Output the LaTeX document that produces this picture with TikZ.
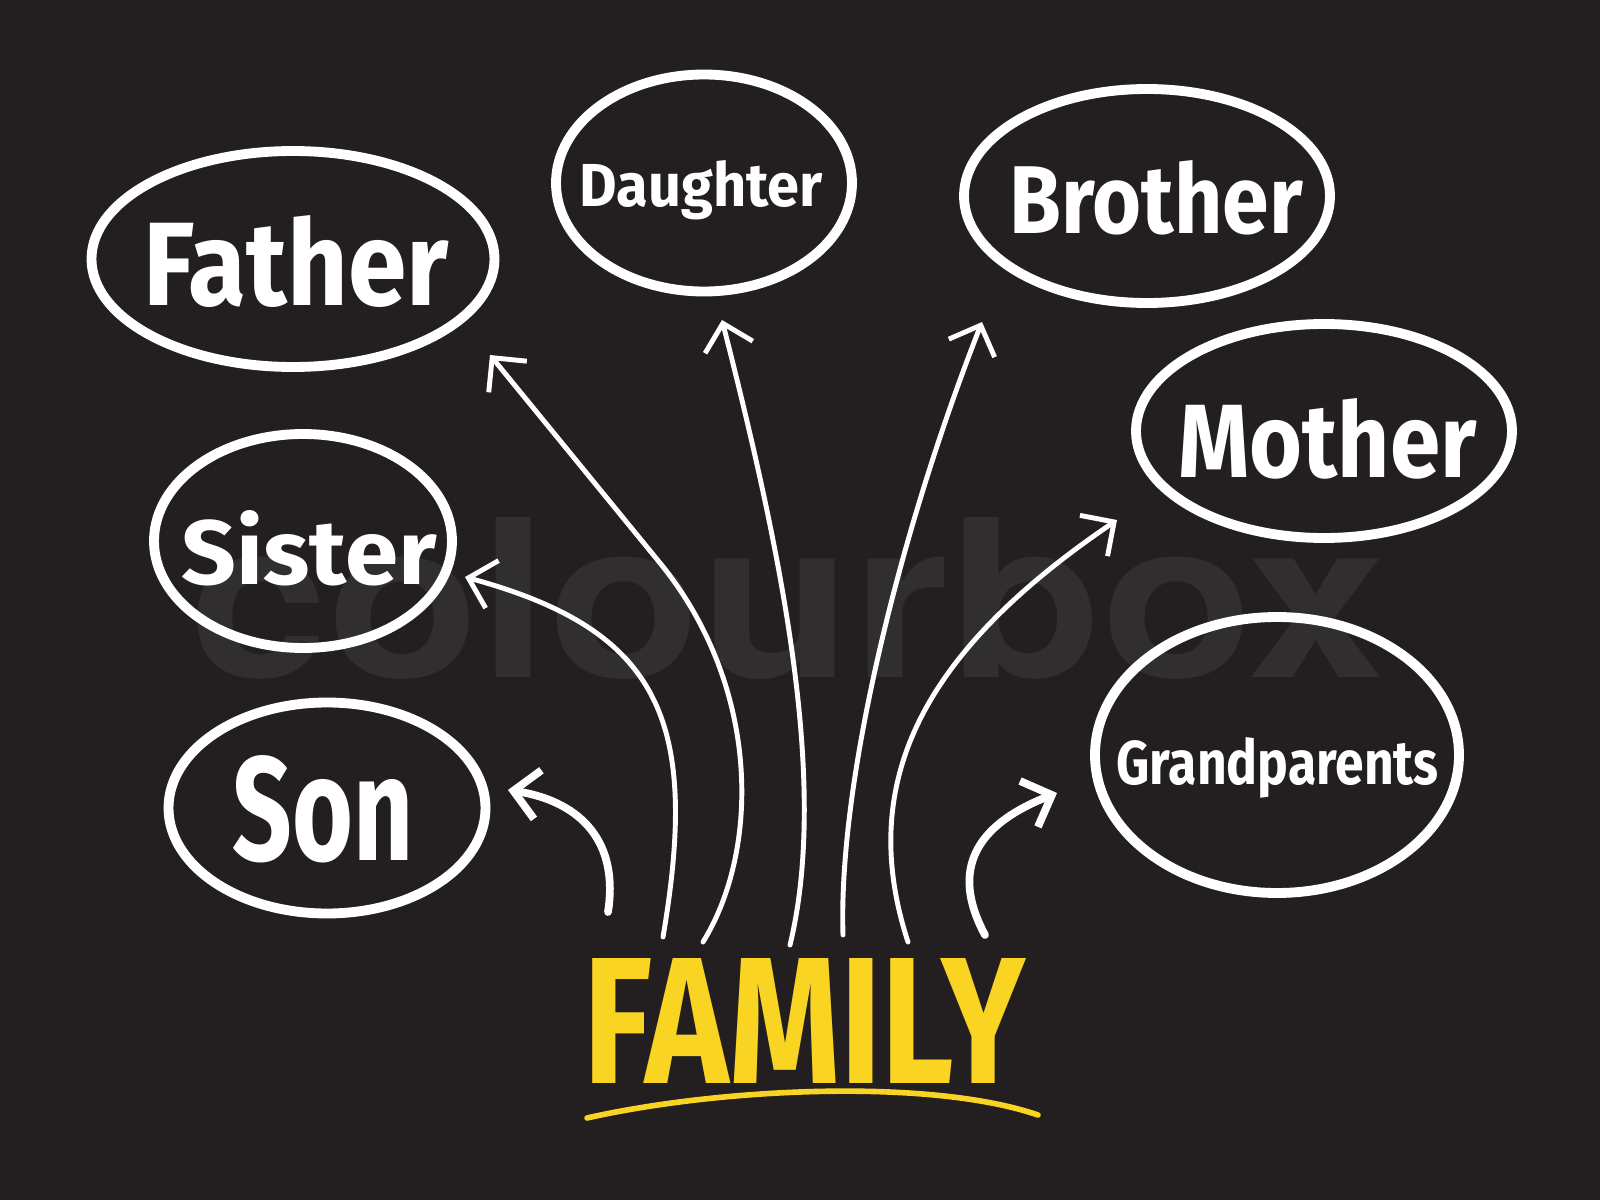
\documentclass[tikz,border=0pt]{standalone}
\usepackage{fontspec}
\setmainfont{Fira Sans}
\newfontfamily\wmfont{TeX Gyre Heros}
\usetikzlibrary{shapes.geometric,arrows.meta}
\definecolor{bg}{RGB}{35,31,32}
\definecolor{fam}{RGB}{249,212,35}
\definecolor{wmc}{RGB}{49,46,47}
\begin{document}
\begin{tikzpicture}[x=0.1mm,y=-0.1mm,
  bubble/.style={ellipse, draw=white, line width=2.8pt, inner sep=0pt},
  word/.style={text=white, font=\bfseries, inner sep=0pt, anchor=base west},
  link/.style={draw=white, line width=1.4pt, line cap=round, -{Straight Barb[length=7pt,width=14pt]}},
  boldlink/.style={link, line width=2.2pt}]
\fill[bg] (0,0) rectangle (1600,1200);
\useasboundingbox (0,0) rectangle (1600,1200);

% watermark
\node[text=wmc, font=\wmfont\bfseries, inner sep=0pt, anchor=base west] (wm) at (189,677) {\resizebox{119.5mm}{16mm}{colourbox}};

% bubbles
\node[bubble, minimum width=40.3mm, minimum height=21.6mm] (father) at (293,259) {};
\node[bubble, minimum width=29.6mm, minimum height=21.7mm] (daughter) at (704,183) {};
\node[bubble, minimum width=36.6mm, minimum height=21.4mm] (brother) at (1147,196) {};
\node[bubble, minimum width=37.6mm, minimum height=21.4mm] (mother) at (1324,431) {};
\node[bubble, minimum width=36.4mm, minimum height=27.6mm] (grand) at (1277,755) {};
\node[bubble, minimum width=29.8mm, minimum height=21.4mm] (sister) at (303,541) {};
\node[bubble, minimum width=31.7mm, minimum height=21.1mm] (son) at (327,808) {};

% words
\node[word] (fatherT) at (143,306) {\resizebox{30.5mm}{9.0mm}{Father}};
\node[word] (daughterT) at (579,207) {\resizebox{24.3mm}{4.6mm}{Daughter}};
\node[word] (brotherT) at (1009,234) {\resizebox{29.3mm}{7.3mm}{Brother}};
\node[word] (motherT) at (1178,477) {\resizebox{29.8mm}{7.9mm}{Mother}};
\node[word] (sisterT) at (181,584) {\resizebox{25.5mm}{7.4mm}{Sister}};
\node[word] (sonT) at (232,860) {\resizebox{18.1mm}{10.5mm}{Son}};
\node[word] (grandT) at (1116,784) {\resizebox{32.2mm}{4.7mm}{Grandparents}};
\node[word, text=fam] (family) at (583,1083) {\resizebox{44.2mm}{12.5mm}{FAMILY}};

% connector ends
\coordinate (sonS) at (608,912);   \coordinate (sonE) at (508,790);
\coordinate (sisS) at (663,937);   \coordinate (sisE) at (465,577);
\coordinate (fatS) at (703,942);   \coordinate (fatM) at (660,563); \coordinate (fatE) at (490,355);
\coordinate (dauS) at (790,945);   \coordinate (dauE) at (722,320);
\coordinate (broS) at (843,935);   \coordinate (broE) at (982,322);
\coordinate (motS) at (908,942);   \coordinate (motE) at (1117,520);
\coordinate (graS) at (985,935);   \coordinate (graE) at (1057,793);
\coordinate (ulA) at (587,1118);   \coordinate (ulB) at (1038,1115);

% connectors
\draw[boldlink] (sonS) .. controls (620,835) and (573,800) .. (sonE);
\draw[link] (sisS) .. controls (700,720) and (660,630) .. (sisE);
\draw[link] (fatS) .. controls (760,850) and (761,687) .. (fatM) -- (fatE);
\draw[link] (dauS) .. controls (830,780) and (779,544) .. (dauE);
\draw[link] (broS) .. controls (838,780) and (901,528) .. (broE);
\draw[link] (motS) .. controls (855,780) and (925,650) .. (motE);
\draw[boldlink] (graS) .. controls (950,870) and (975,825) .. (graE);

% underline
\draw[fam, line width=1.6pt, line cap=round] (ulA) .. controls (720,1088) and (930,1078) .. (ulB);
\end{tikzpicture}
\end{document}
